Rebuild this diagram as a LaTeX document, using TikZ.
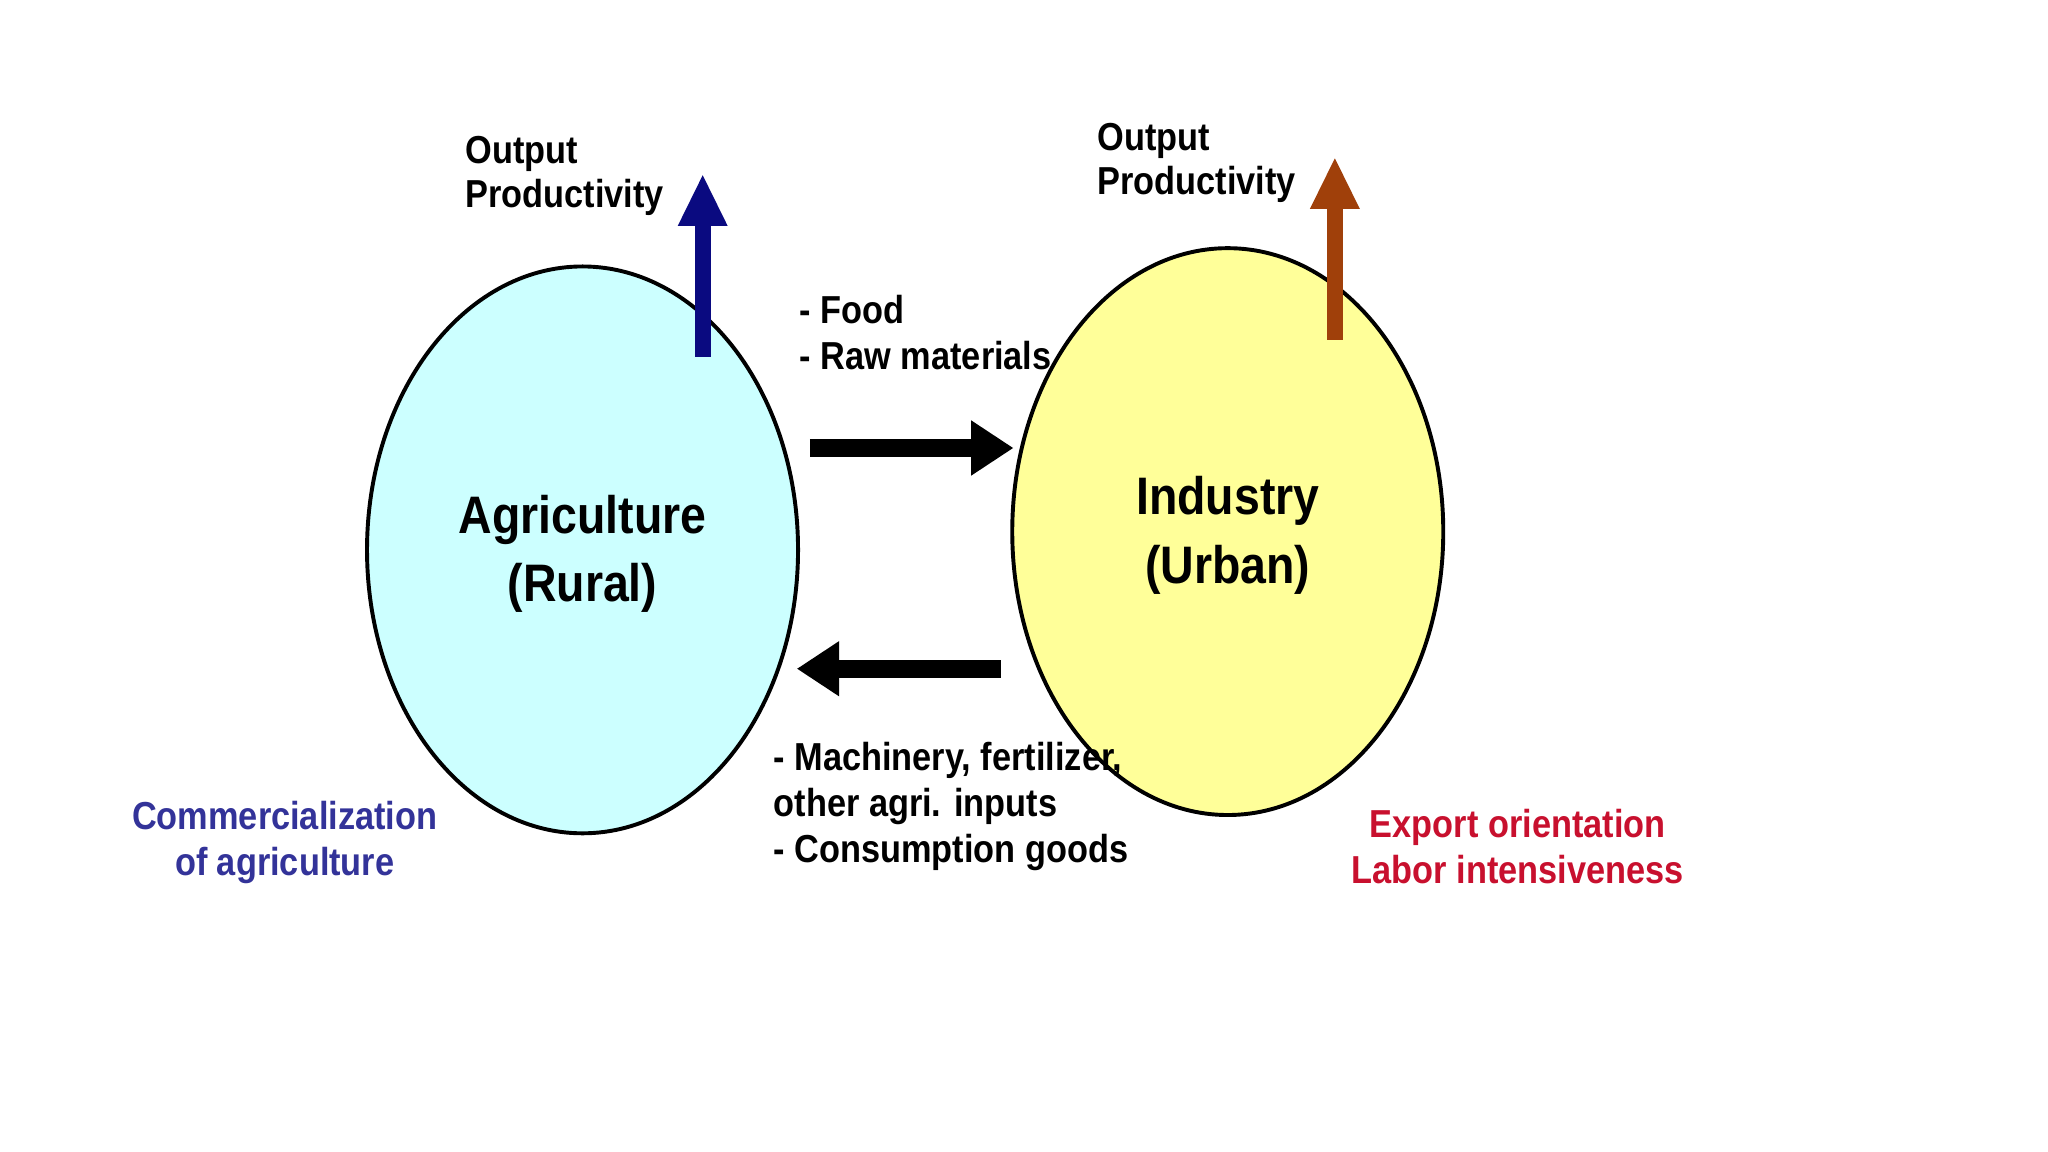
\documentclass[tikz,border=0pt]{standalone}
\usepackage{fontspec}
\setmainfont{Liberation Sans}[FakeStretch=0.88]
\usetikzlibrary{arrows.meta,shapes.geometric}
\definecolor{cyanfill}{HTML}{CCFFFF}
\definecolor{yelfill}{HTML}{FFFF99}
\definecolor{navyar}{HTML}{0A0A80}
\definecolor{brownar}{HTML}{A0400A}
\definecolor{bluetxt}{HTML}{333399}
\definecolor{redtxt}{HTML}{C8102E}
\tikzset{
  sector/.style={draw=black,line width=0.06cm},
  lbl/.style={font=\bfseries\fontsize{17}{21}\selectfont,align=left,inner sep=0},
  big/.style={font=\bfseries\fontsize{23}{30}\selectfont,align=center},
  flow/.style={line width=0.28cm,-{Triangle[width=0.8cm,length=0.65cm]}},
  up/.style={line width=0.24cm,-{Triangle[width=0.7cm,length=0.8cm]}}
}
\begin{document}
\begin{tikzpicture}[x=0.02cm,y=-0.02cm]
\useasboundingbox[fill=white] (0,0) rectangle (1568,882);
\node[sector,fill=cyanfill,ellipse,minimum width=330*0.02cm,minimum height=434*0.02cm,inner sep=0] (agr) at (446,421) {};
\node[sector,fill=yelfill,ellipse,minimum width=330*0.02cm,minimum height=434*0.02cm,inner sep=0] (ind) at (940,407) {};
\node[big] (agrt) at (446,424) {Agriculture\\(Rural)};
\node[big] (indt) at (940,410) {Industry\\(Urban)};
\coordinate (ba0) at (538,273); \coordinate (ba1) at (538,133);
\coordinate (ra0) at (1022,260); \coordinate (ra1) at (1022,120);
\draw[up,navyar] (ba0) -- (ba1);
\draw[up,brownar] (ra0) -- (ra1);
\node[lbl,anchor=north west] (out1) at (356,104) {Output\\[-2pt]Productivity};
\node[lbl,anchor=north west] (out2) at (840,94) {Output\\[-2pt]Productivity};
\coordinate (f0) at (620,343); \coordinate (f1) at (776,343);
\coordinate (g0) at (766,512); \coordinate (g1) at (610,512);
\draw[flow] (f0) -- (f1);
\draw[flow] (g0) -- (g1);
\node[lbl,anchor=north west] (food) at (612,226) {- Food\\[-1pt]- Raw materials};
\node[lbl,anchor=north west] (mach) at (592,568) {- Machinery, fertilizer,\\[-1pt]other agri. inputs\\[-1pt]- Consumption goods};
\node[lbl,align=center,anchor=center,text=bluetxt] (comm) at (218,645) {Commercialization\\[-1pt]of agriculture};
\node[lbl,align=center,anchor=center,text=redtxt] (exp) at (1162,648) {Export orientation\\[-1pt]Labor intensiveness};
\end{tikzpicture}
\end{document}
